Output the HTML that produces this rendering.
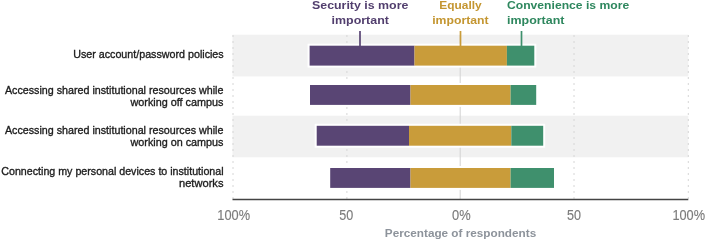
<!DOCTYPE html>
<html><head><meta charset="utf-8">
<style>
html,body{margin:0;padding:0;background:#fff;}
body{width:706px;height:241px;overflow:hidden;}
svg{display:block;will-change:transform;}
text{font-family:"Liberation Sans",sans-serif;}
.lab{font-size:11.6px;fill:#1c1c1c;stroke:#1c1c1c;stroke-width:0.35;}
.hd{font-size:11px;font-weight:bold;}
.tk{font-size:14px;fill:#7c7c7c;stroke:#7c7c7c;stroke-width:0.15;}
.ttl{font-size:11.2px;font-weight:bold;fill:#8d939b;}
</style></head>
<body>
<svg width="706" height="241" viewBox="0 0 706 241" xmlns="http://www.w3.org/2000/svg">
<!-- bands -->
<rect x="232.5" y="34.7" width="455.8" height="41.7" fill="#f1f1f1"/>
<rect x="232.5" y="115.7" width="455.8" height="41.6" fill="#f1f1f1"/>
<!-- gridlines -->
<g stroke="#d6d6d6" stroke-width="1" stroke-dasharray="2,4">
<line x1="233" y1="35" x2="233" y2="199"/>
<line x1="346.9" y1="35" x2="346.9" y2="199"/>
<line x1="574" y1="35" x2="574" y2="199"/>
<line x1="688.3" y1="35" x2="688.3" y2="199"/>
</g>
<line x1="460.2" y1="35" x2="460.2" y2="199" stroke="#d2d2d2" stroke-width="1"/>
<!-- axis -->
<line x1="232.5" y1="199.5" x2="688.3" y2="199.5" stroke="#444" stroke-width="1.3"/>
<!-- bars -->
<g stroke="#fff" stroke-width="4">
<rect x="309.6" y="45.7" width="224.7" height="19.9" fill="#fff"/>
<rect x="310" y="85" width="226.2" height="19.9" fill="#fff"/>
<rect x="316.7" y="125.8" width="226.5" height="19.9" fill="#fff"/>
<rect x="330.2" y="168" width="223.8" height="19.9" fill="#fff"/>
</g>
<rect x="309.6" y="45.7" width="104.9" height="19.9" fill="#594574"/>
<rect x="414.5" y="45.7" width="92.4" height="19.9" fill="#c99c3a"/>
<rect x="506.9" y="45.7" width="27.4" height="19.9" fill="#3f906d"/>

<rect x="310" y="85" width="100.5" height="19.9" fill="#594574"/>
<rect x="410.5" y="85" width="100.1" height="19.9" fill="#c99c3a"/>
<rect x="510.6" y="85" width="25.6" height="19.9" fill="#3f906d"/>

<rect x="316.7" y="125.8" width="92.3" height="19.9" fill="#594574"/>
<rect x="409" y="125.8" width="102.3" height="19.9" fill="#c99c3a"/>
<rect x="511.3" y="125.8" width="31.9" height="19.9" fill="#3f906d"/>

<rect x="330.2" y="168" width="80.3" height="19.9" fill="#594574"/>
<rect x="410.5" y="168" width="100.1" height="19.9" fill="#c99c3a"/>
<rect x="510.6" y="168" width="43.4" height="19.9" fill="#3f906d"/>

<!-- header ticks -->
<line x1="360" y1="31" x2="360" y2="46" stroke="#594574" stroke-width="1.7"/>
<line x1="460.5" y1="31" x2="460.5" y2="46" stroke="#c99c3a" stroke-width="1.7"/>
<line x1="521.5" y1="31" x2="521.5" y2="46" stroke="#3f906d" stroke-width="1.7"/>

<!-- headers -->
<g class="hd">
<text x="312" y="8.9" textLength="96.4" lengthAdjust="spacingAndGlyphs" fill="#523f6e">Security is more</text>
<text x="331.6" y="23.6" textLength="57.3" lengthAdjust="spacingAndGlyphs" fill="#523f6e">important</text>
<text x="439.3" y="8.9" textLength="42.4" lengthAdjust="spacingAndGlyphs" fill="#c49631">Equally</text>
<text x="432.2" y="23.6" textLength="56.5" lengthAdjust="spacingAndGlyphs" fill="#c49631">important</text>
<text x="507" y="8.9" textLength="122.2" lengthAdjust="spacingAndGlyphs" fill="#2e875e">Convenience is more</text>
<text x="507" y="23.6" textLength="57.4" lengthAdjust="spacingAndGlyphs" fill="#2e875e">important</text>
</g>

<!-- row labels -->
<g class="lab">
<text x="73.2" y="58.2" textLength="150.5" lengthAdjust="spacingAndGlyphs">User account/password policies</text>
<text x="4.9" y="94" textLength="218.5" lengthAdjust="spacingAndGlyphs">Accessing shared institutional resources while</text>
<text x="130.5" y="106.3" textLength="93" lengthAdjust="spacingAndGlyphs">working off campus</text>
<text x="4.9" y="133.7" textLength="218.5" lengthAdjust="spacingAndGlyphs">Accessing shared institutional resources while</text>
<text x="130.5" y="146.1" textLength="93" lengthAdjust="spacingAndGlyphs">working on campus</text>
<text x="1.3" y="175.4" textLength="222.3" lengthAdjust="spacingAndGlyphs">Connecting my personal devices to institutional</text>
<text x="179" y="187.4" textLength="44.5" lengthAdjust="spacingAndGlyphs">networks</text>
</g>

<!-- ticks -->
<g class="tk">
<text x="217.3" y="219.7" textLength="32.7" lengthAdjust="spacingAndGlyphs">100%</text>
<text x="339.3" y="219.7" textLength="14" lengthAdjust="spacingAndGlyphs">50</text>
<text x="452" y="219.7" textLength="18.6" lengthAdjust="spacingAndGlyphs">0%</text>
<text x="566.9" y="219.7" textLength="14" lengthAdjust="spacingAndGlyphs">50</text>
<text x="672.4" y="219.7" textLength="32.6" lengthAdjust="spacingAndGlyphs">100%</text>
</g>
<text class="ttl" x="384.8" y="237.2" textLength="151.4" lengthAdjust="spacingAndGlyphs">Percentage of respondents</text>
</svg>
</body></html>
